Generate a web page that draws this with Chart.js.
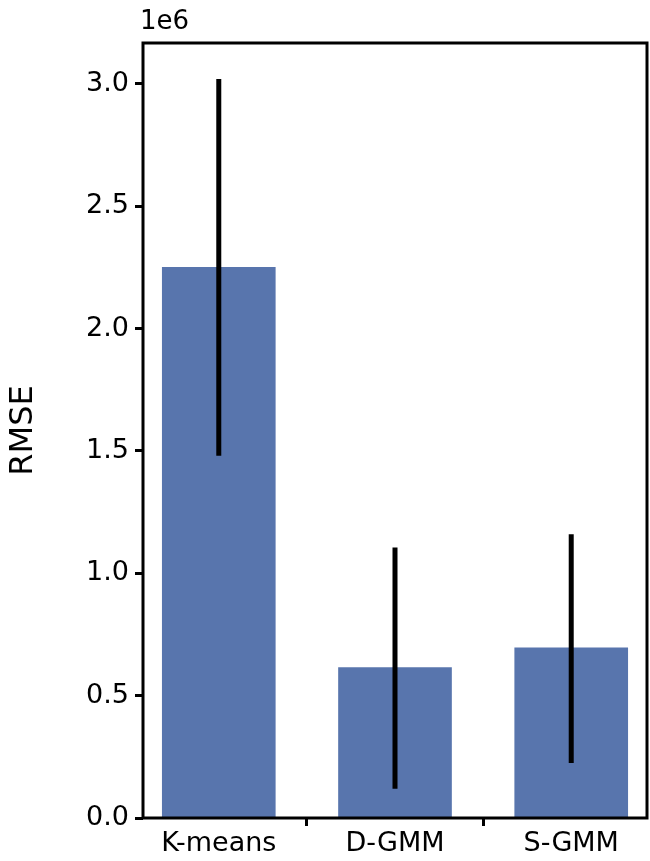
<!DOCTYPE html>
<html><head><meta charset="utf-8">
<script src="https://cdn.jsdelivr.net/npm/chart.js@4"></script>
<style>html,body{margin:0;padding:0;background:#fff}#w{width:650px;height:861px}</style>
</head><body><div id="w"><canvas id="c"></canvas></div>
<script>
const categories = ["K-means", "D-GMM", "S-GMM"];
const rmse = [2.25e6, 0.615e6, 0.695e6];
const errLow = [1.48e6, 0.12e6, 0.225e6];
const errHigh = [3.02e6, 1.105e6, 1.16e6];
const yTicks = [0, 0.5e6, 1.0e6, 1.5e6, 2.0e6, 2.5e6, 3.0e6];

const F = "'DejaVu Sans', sans-serif";
const errPlugin = {
  id: 'err',
  afterDatasetsDraw(chart) {
    const {ctx, scales:{x, y}} = chart;
    ctx.save();
    ctx.strokeStyle = '#000'; ctx.lineWidth = 5; ctx.lineCap = 'butt';
    categories.forEach((c, i) => {
      const px = x.getPixelForValue(i);
      ctx.beginPath();
      ctx.moveTo(px, y.getPixelForValue(errLow[i]));
      ctx.lineTo(px, y.getPixelForValue(errHigh[i]));
      ctx.stroke();
    });
    const a = chart.chartArea;
    ctx.strokeStyle = '#000'; ctx.lineWidth = 3;
    ctx.strokeRect(a.left, a.top, a.right - a.left, a.bottom - a.top);
    ctx.fillStyle = '#000'; ctx.font = "26px " + F; ctx.textBaseline = 'bottom'; ctx.textAlign = 'left';
    ctx.fillText('1e6', a.left - 3, a.top - 8);
    ctx.restore();
  }
};

new Chart(document.getElementById('c'), {
  type: 'bar',
  data: { datasets: [{
    data: rmse.map((v, i) => ({x: i, y: v})),
    backgroundColor: '#5875ad',
    barThickness: 113
  }]},
  options: {
    responsive: true, maintainAspectRatio: false, animation: false,
    devicePixelRatio: 1,
    layout: { padding: { top: 43, right: 3, left: 0, bottom: 0 } },
    plugins: { legend: { display: false }, tooltip: { enabled: false } },
    scales: {
      x: {
        type: 'linear', min: -0.43, max: 2.43, offset: false,
        afterBuildTicks(s) { s.ticks = categories.map((c, i) => ({value: i})); },
        afterFit(s) { s.height = 43; },
        ticks: { callback: (v) => categories[v], color: '#000', font: { family: F, size: 27 }, padding: 2, maxRotation: 0, autoSkip: false },
        grid: { display: true, drawOnChartArea: false, drawTicks: true, tickLength: 8, color: '#000', tickColor: '#000', tickWidth: 3 },
        border: { display: false }
      },
      y: {
        min: 0, max: 3.167e6,
        afterBuildTicks(s) { s.ticks = yTicks.map(v => ({value: v})); },
        afterFit(s) { s.width = 143; },
        ticks: { callback: (v) => (v / 1e6).toFixed(1), color: '#000', font: { family: F, size: 27 }, padding: 6 },
        title: { display: true, text: 'RMSE', color: '#000', font: { family: F, size: 32 }, padding: { bottom: 12 } },
        grid: { display: true, drawOnChartArea: false, drawTicks: true, tickLength: 8, color: '#000', tickColor: '#000', tickWidth: 3 },
        border: { display: false }
      }
    }
  },
  plugins: [errPlugin]
});
</script></body></html>
